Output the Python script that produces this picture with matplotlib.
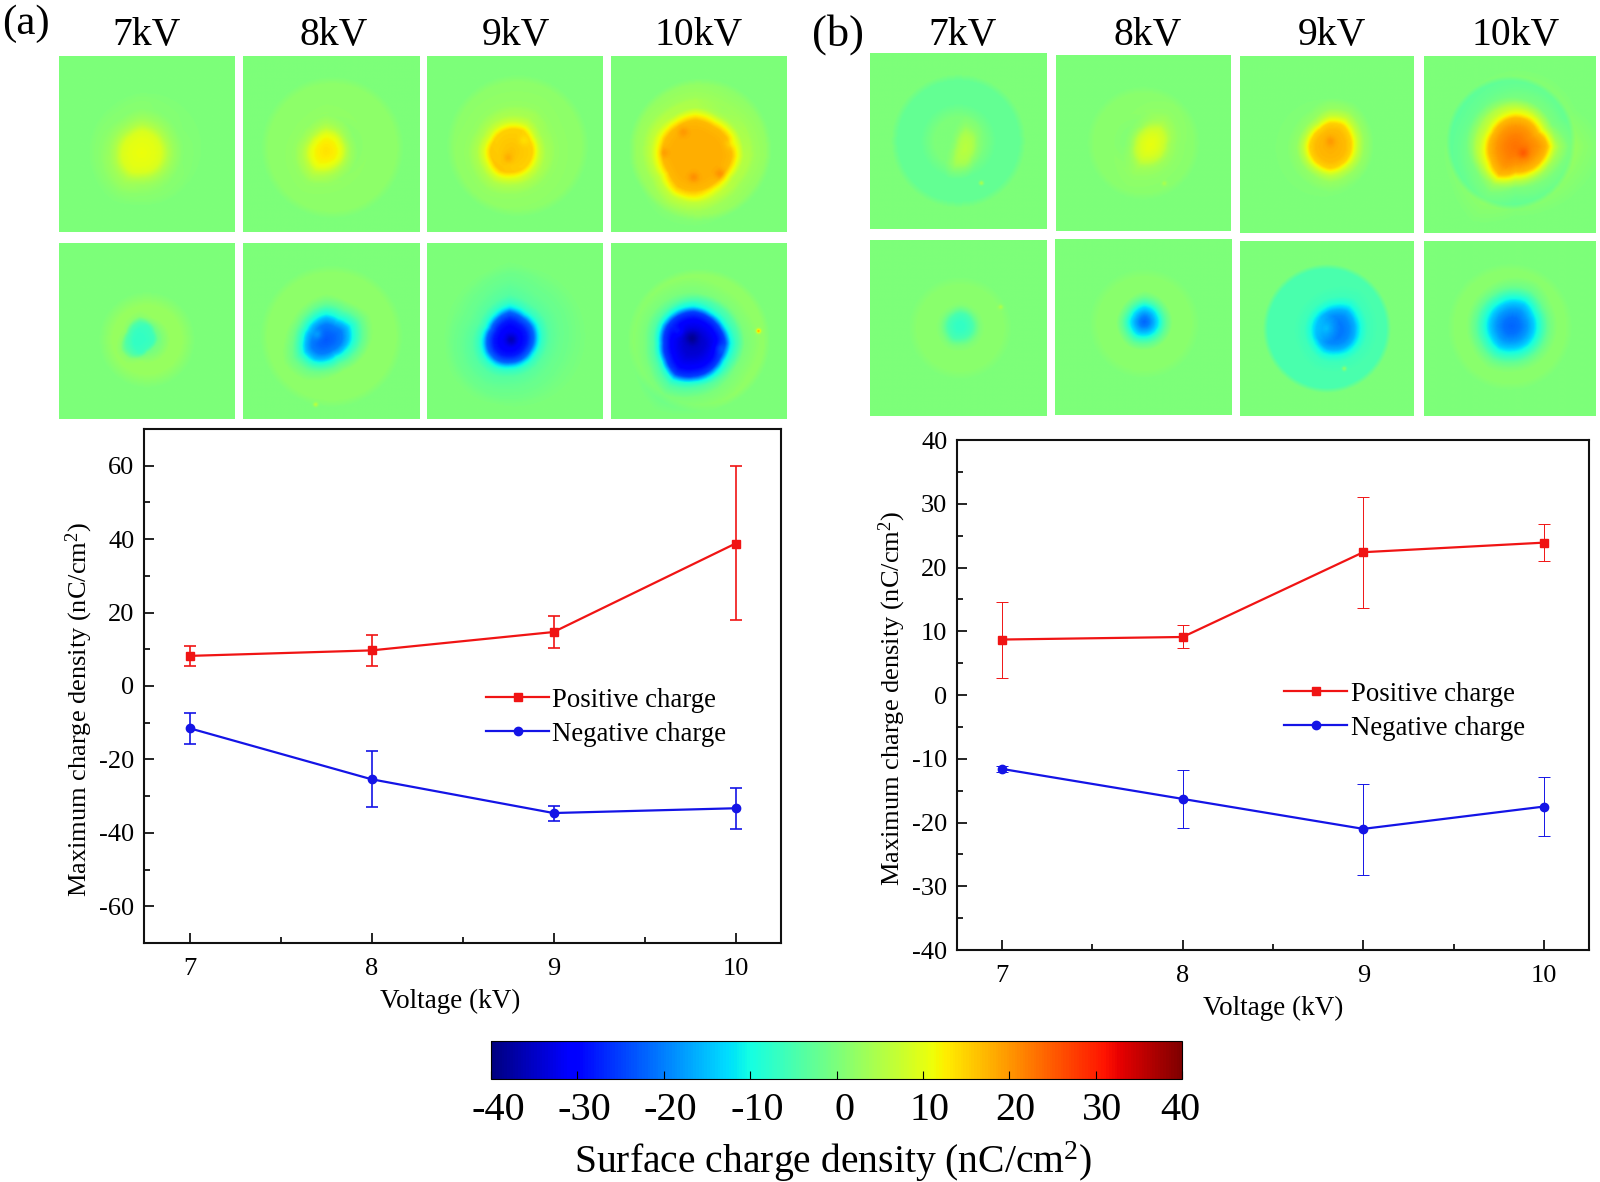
import numpy as np
import matplotlib
matplotlib.use('Agg')
import matplotlib.pyplot as plt
from matplotlib.cm import ScalarMappable
from matplotlib.colors import Normalize
from matplotlib.transforms import ScaledTranslation

plt.rcParams['font.family'] = ['Liberation Serif', 'DejaVu Serif']
plt.rcParams['mathtext.fontset'] = 'custom'
plt.rcParams['mathtext.rm'] = 'Liberation Serif'
plt.rcParams['mathtext.it'] = 'Liberation Serif:italic'
plt.rcParams['axes.unicode_minus'] = False

W, H = 1600, 1182

# line plot data
voltage = [7, 8, 9, 10]
a_pos = [8.2, 9.7, 14.7, 38.8]
a_pos_low = [5.5, 5.5, 10.4, 18.0]
a_pos_high = [11.0, 14.0, 19.0, 60.0]
a_neg = [-11.5, -25.4, -34.6, -33.3]
a_neg_low = [-15.7, -33.0, -36.7, -38.9]
a_neg_high = [-7.4, -17.8, -32.6, -27.8]
b_pos = [8.7, 9.1, 22.4, 23.9]
b_pos_low = [2.7, 7.3, 13.7, 21.0]
b_pos_high = [14.6, 11.0, 31.1, 26.8]
b_neg = [-11.6, -16.3, -21.0, -17.5]
b_neg_low = [-12.0, -20.8, -28.2, -22.1]
b_neg_high = [-11.1, -11.8, -13.9, -12.9]

kv_labels = ['7kV', '8kV', '9kV', '10kV']
cbar_ticks = [-40, -30, -20, -10, 0, 10, 20, 30, 40]

# surface maps: radii are normalised by core size, lengths are % of the panel width
core_r = [0, 0.3, 0.6, 0.85, 1.0, 1.15, 1.4, 1.8, 2.4]
map_center_a_top = [(47, 55), (47, 54), (48, 54), (48, 57)]
map_size_a_top = [13, 10, 14, 23]
map_core_a_top = [[11, 10.5, 10, 9, 7, 5, 3, 1, 0],
                  [13.5, 13, 12, 10, 8, 5.5, 3, 0.5, 0],
                  [16.5, 16, 15.5, 15, 11, 7, 3, 0.5, 0],
                  [18, 18, 18, 17, 11, 5, 1.5, 0, 0]]
map_center_a_bot = [(46, 55), (47, 55), (47, 55), (47, 57)]
map_size_a_bot = [9, 14, 16, 21]
map_core_a_bot = [[-7, -7, -6.5, -6, -4, -1, 0, 0, 0],
                  [-23, -22, -20, -15, -10, -7, -3, 0, 0],
                  [-32, -31, -28, -22, -12, -7, -3.5, -1.5, 0],
                  [-35, -34, -31, -25, -11, -6, -2, 0, 0]]
map_center_b_top = [(54, 54), (54, 51), (52, 51), (53, 51)]
map_size_b_top = [9, 10, 14, 18]
map_core_b_top = [[6, 5.5, 5, 4, 3, 2, 1, 0, 0],
                  [10.5, 10, 9, 7.5, 6, 4, 2, 0.5, 0],
                  [18, 17.5, 17, 15, 10, 6, 2, 0, 0],
                  [23, 22, 20, 17, 11, 7, 3.5, 1.5, 0]]
map_center_b_bot = [(51, 49), (50.5, 47), (55, 51), (51, 48.5)]
map_size_b_bot = [8, 9, 13, 15]
map_core_b_bot = [[-7, -7, -6, -5, -3.5, -2, -0.5, 0, 0],
                  [-22, -20, -16, -12, -9, -6, -3, 0, 0],
                  [-16, -15.5, -14, -11, -7, -4, -1, 0, 0],
                  [-22, -21, -18, -14, -10, -7, -3, 0, 0]]

# blob outline, radius factor every 30 degrees counter-clockwise from +x
map_lobes_a_top = [[1, 1, 1.05, 1.1, 1, 1, 1, 1.05, 1.1, 1, 1, 1],
                   [1, 1, 1.1, 1.15, 1, 0.95, 1, 1.05, 1.15, 1.05, 1, 1],
                   [1, 1, 1.1, 1.05, 1, 0.95, 1, 1, 1.05, 1, 1, 1],
                   [1.05, 1.05, 1, 1.05, 1, 1, 0.95, 0.9, 1, 1, 0.95, 0.95]]
map_lobes_a_bot = [[1, 1, 1.15, 1.3, 1.1, 0.9, 1, 1.2, 1.2, 1, 0.8, 0.85],
                   [1.05, 1.15, 1, 1.05, 0.95, 0.9, 0.95, 1.1, 1.05, 0.9, 0.8, 0.9],
                   [1, 1.05, 1.05, 1.15, 1, 0.9, 0.95, 1, 1, 0.95, 0.95, 0.95],
                   [1, 0.95, 0.95, 1, 1, 1, 0.95, 1, 1.15, 1.05, 1, 0.95]]
map_lobes_b_top = [[0.6, 0.7, 1.0, 1.2, 0.8, 0.6, 0.6, 0.8, 1.3, 1.1, 0.7, 0.6],
                   [0.85, 1.0, 1.15, 1.05, 0.9, 0.85, 0.85, 1, 1.15, 1, 0.9, 0.85],
                   [1, 1.05, 1.15, 1.1, 0.95, 0.95, 1, 1, 1, 1.05, 1, 1],
                   [1.25, 1.0, 1.05, 1.05, 1, 0.95, 1, 1.05, 1.2, 0.95, 1.0, 1.1]]
map_lobes_b_bot = [[1, 1, 1.05, 1.1, 1, 1, 1, 1, 1.1, 1, 1, 1],
                   [1, 1, 1.05, 1.1, 1, 0.95, 1, 1, 1.05, 1, 1, 1],
                   [1, 1.05, 1.15, 1.05, 1, 1, 1, 1, 1.05, 1, 1, 1],
                   [1, 1, 1.1, 1.05, 1, 1, 1, 1, 1.05, 1, 1, 1]]

# faint ring around each blob: centre, then four radii and the plateau value
ring_center_a_top = [(50, 52), (50.5, 52), (51.5, 51), (51, 53)]
ring_r_a_top = [[22, 26, 30, 34], [10, 20, 36, 41], [12, 20, 36, 41], [24, 28, 37, 41]]
ring_v_a_top = [0.4, 1.8, 1.8, 1.8]
ring_center_a_bot = [(50, 55), (50, 53), (50, 53), (50, 55)]
ring_r_a_bot = [[8, 13, 20, 28], [15, 22, 36, 41], [22, 30, 36, 40], [22, 26, 37, 41]]
ring_v_a_bot = [2.5, 1.8, -0.5, 2.0]
ring_center_b_top = [(50, 50), (50, 50), (48, 52), (50.5, 49)]
ring_r_b_top = [[14, 22, 34, 38], [10, 18, 28, 33], [16, 20, 26, 30], [20, 26, 35, 38]]
ring_v_b_top = [-2.5, 1.5, 0.5, -3.5]
ring_center_b_bot = [(51, 50), (50.5, 48), (50, 50), (50, 49)]
ring_r_b_bot = [[8, 14, 24, 30], [10, 16, 26, 32], [0, 8, 34, 37], [18, 24, 32, 37]]
ring_v_b_bot = [1.5, 1.5, -5.0, 1.5]

# isolated spots and broader mottling: column, x %, y %, value, spread
spots_a_top = [(3, 62, 67, 3, 8), (3, 47, 69, 2.5, 8), (3, 41, 43, 2, 8), (3, 68, 50, -2, 8),
               (3, 30, 55, 2, 8), (2, 46, 58, 2, 8), (2, 55, 48, -1.5, 8)]
spots_a_bot = [(3, 84, 50, 16, 1.5), (1, 41, 92, 6, 1.5), (3, 46, 54, -4, 12), (3, 62, 60, 3, 12),
               (3, 38, 50, 3, 8), (2, 48, 55, -4, 10), (1, 42, 52, 3, 8)]
spots_b_top = [(0, 63, 74, 7, 1.5), (1, 62, 73, 3, 1.5), (3, 58, 55, 3, 10), (2, 52, 48, 2, 8)]
spots_b_bot = [(0, 74, 38, 4, 1.5), (2, 60, 73, 7, 1.5)]

# panel rectangles in pixels (left, right, top, bottom)
panels_a_top = [(59, 235, 56, 232), (243, 419, 56, 232), (427, 603, 56, 232), (611, 787, 56, 232)]
panels_a_bot = [(59, 235, 243, 419), (243, 419, 243, 419), (427, 603, 243, 419), (611, 787, 243, 419)]
panels_b_top = [(870, 1046, 53, 229), (1056, 1231, 55, 231), (1240, 1414, 56, 233), (1424, 1596, 56, 233)]
panels_b_bot = [(870, 1046, 240, 416), (1055, 1232, 239, 415), (1240, 1414, 241, 416), (1424, 1596, 241, 416)]


def add_ax(x0, x1, y0, y1):
    return fig.add_axes([x0 / W, 1 - y1 / H, (x1 - x0) / W, (y1 - y0) / H])


def surface(center, size, core, lobes, ring_c, ring_r, ring_v, spots):
    yy, xx = np.mgrid[0:100:200j, 0:100:200j]
    dx, dy = xx - center[0], center[1] - yy
    rho = np.hypot(dx, dy)
    # interpolate the outline with wrap around
    angles = np.arange(0, 390, 30)
    theta = np.degrees(np.arctan2(dy, dx)) % 360
    factor = np.interp(theta, angles, lobes + lobes[:1])
    z = np.interp(rho / (size * factor), core_r, core)
    ring_d = np.hypot(xx - ring_c[0], yy - ring_c[1])
    z = z + np.interp(ring_d, ring_r, [0, ring_v, ring_v, 0])
    for sx, sy, sv, sw in spots:
        z = z + sv * np.exp(-((xx - sx) ** 2 + (yy - sy) ** 2) / sw)
    return z


def draw_row(panels, centers, sizes, cores, lobes, ring_cs, ring_rs, ring_vs, spots):
    for i, box in enumerate(panels):
        ax = add_ax(*box)
        own = [s[1:] for s in spots if s[0] == i]
        z = surface(centers[i], sizes[i], cores[i], lobes[i], ring_cs[i], ring_rs[i], ring_vs[i], own)
        ax.imshow(z, cmap='jet', vmin=-40, vmax=40, aspect='auto', interpolation='bilinear')
        ax.axis('off')


def draw_lines(ax, pos, pos_low, pos_high, neg, neg_low, neg_high, ylim, major, minor, elw, legend_xy, xlabel_x, ylabel_y):
    pos_arr, neg_arr = np.array(pos), np.array(neg)
    ax.errorbar(voltage, pos, yerr=[pos_arr - pos_low, np.array(pos_high) - pos_arr], color='#f01414', lw=1.6,
                marker='s', ms=5.5, elinewidth=elw, capsize=4.5, capthick=elw, label='Positive charge')
    ax.errorbar(voltage, neg, yerr=[neg_arr - neg_low, np.array(neg_high) - neg_arr], color='#1414e6', lw=1.6,
                marker='o', ms=6, elinewidth=elw, capsize=4.5, capthick=elw, label='Negative charge')
    ax.set_xlim(6.75, 10.25)
    ax.set_ylim(*ylim)
    ax.set_xticks(voltage)
    ax.set_xticks([7.5, 8.5, 9.5], minor=True)
    ax.set_yticks(major)
    ax.set_yticks(minor, minor=True)
    ax.tick_params(which='major', direction='in', length=7, width=1.2, labelsize=19)
    ax.tick_params(which='minor', direction='in', length=4, width=1.2)
    ax.tick_params(axis='x', which='major', pad=10.5)
    ax.tick_params(axis='y', which='major', pad=7)
    for s in ax.spines.values():
        s.set_linewidth(1.5)
        s.set_color('#111111')
    ax.set_xlabel('Voltage (kV)', fontsize=19.5, labelpad=7, x=xlabel_x)
    ax.set_ylabel('Maximum charge density (nC/cm$^{2}$)', fontsize=19, labelpad=3, y=ylabel_y)
    handles, labels = ax.get_legend_handles_labels()
    # errorbar containers would draw caps in the legend, keep the data line only
    handles = [h[0] for h in handles]
    ax.legend(handles, labels, loc='upper left', bbox_to_anchor=legend_xy, frameon=False, fontsize=19.3,
              handlelength=2.35, handletextpad=0.12, labelspacing=0.34, borderpad=0, borderaxespad=0)


fig = plt.figure(figsize=(W / 100, H / 100), dpi=100)

draw_row(panels_a_top, map_center_a_top, map_size_a_top, map_core_a_top, map_lobes_a_top,
         ring_center_a_top, ring_r_a_top, ring_v_a_top, spots_a_top)
draw_row(panels_a_bot, map_center_a_bot, map_size_a_bot, map_core_a_bot, map_lobes_a_bot,
         ring_center_a_bot, ring_r_a_bot, ring_v_a_bot, spots_a_bot)
draw_row(panels_b_top, map_center_b_top, map_size_b_top, map_core_b_top, map_lobes_b_top,
         ring_center_b_top, ring_r_b_top, ring_v_b_top, spots_b_top)
draw_row(panels_b_bot, map_center_b_bot, map_size_b_bot, map_core_b_bot, map_lobes_b_bot,
         ring_center_b_bot, ring_r_b_bot, ring_v_b_bot, spots_b_bot)

# column headers and panel letters
for name, x in zip(kv_labels, [147, 334, 516, 699]):
    fig.text(x / W, 1 - 36 / H, name, fontsize=28.5, ha='center', va='center')
for name, x in zip(kv_labels, [963, 1148, 1332, 1516]):
    fig.text(x / W, 1 - 35 / H, name, fontsize=28.5, ha='center', va='center')
fig.text(26 / W, 1 - 24 / H, '(a)', fontsize=31, ha='center', va='center')
fig.text(838 / W, 1 - 35 / H, '(b)', fontsize=32, ha='center', va='center')

ax_a = add_ax(144, 781, 429, 943)
draw_lines(ax_a, a_pos, a_pos_low, a_pos_high, a_neg, a_neg_low, a_neg_high, (-70, 70),
           [-60, -40, -20, 0, 20, 40, 60], [-50, -30, -10, 10, 30, 50], 1.2, (0.537, 0.497), 0.481, 0.454)
ax_b = add_ax(957, 1589, 440, 950)
draw_lines(ax_b, b_pos, b_pos_low, b_pos_high, b_neg, b_neg_low, b_neg_high, (-40, 40),
           [-40, -30, -20, -10, 0, 10, 20, 30, 40], [-35, -25, -15, -5, 5, 15, 25, 35], 0.7, (0.518, 0.526), 0.5, 0.494)

# shared colour bar
cax = add_ax(491, 1182, 1041, 1079)
sm = ScalarMappable(norm=Normalize(-40, 40), cmap='jet')
cbar = fig.colorbar(sm, cax=cax, orientation='horizontal', ticks=cbar_ticks)
cbar.outline.set_linewidth(0.8)
cbar.ax.tick_params(direction='in', length=6, width=0.8, labelsize=29, pad=9)
# the printed labels sit a little right of their ticks
for lab, shift in zip(cbar.ax.get_xticklabels(), [7, 7, 7, 7, 8, 7, 6, 6, -2]):
    lab.set_transform(lab.get_transform() + ScaledTranslation(shift / 100, 0, fig.dpi_scale_trans))
cbar.set_label('Surface charge density (nC/cm$^{2}$)', fontsize=28.5, labelpad=8, x=0.495)

fig.savefig('out.png', dpi=100)
